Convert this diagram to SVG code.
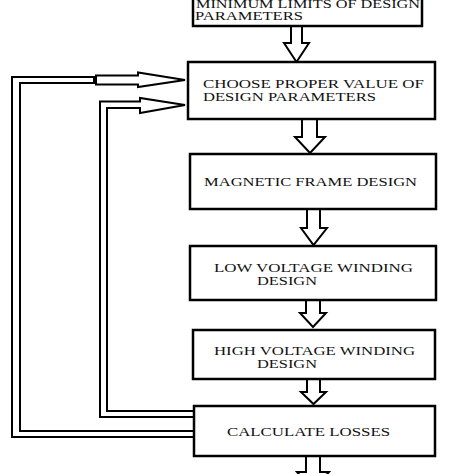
<svg xmlns="http://www.w3.org/2000/svg" width="474" height="474" viewBox="0 0 474 474">
<style>
.box{fill:#fff;stroke:#000;stroke-width:2.5}
.arr{fill:#fff;stroke:#000;stroke-width:2;stroke-linejoin:miter}
.t{font-family:"Liberation Serif","Times New Roman",serif;font-size:12px;fill:#111}
</style>
<rect width="474" height="474" fill="#fff"/>
<g id="connectors">
<polygon class="arr" points="291,26 302,26 302,43 309,43 296.5,62 284,43 291,43"/>
<polygon class="arr" points="302,119 317,119 317,137 325,137 310,153 295,137 302,137"/>
<polygon class="arr" points="307,209 320,209 320,228 327,228 313.5,245 301,228 307,228"/>
<polygon class="arr" points="306,300 320,300 320,313 326,313 313,327 300,313 306,313"/>
<polygon class="arr" points="307,379 320,379 320,392 326,392 313.5,404 301,392 307,392"/>
<polygon class="arr" points="306,456 320,456 320,472 329,472 313,490 297,472 306,472"/>
<polygon class="arr" points="12,77 94,77 94,83 20,83 20,431 195,431 195,437 12,437"/>
<polygon class="arr" points="96,75.5 138,75.5 138,72.5 185,80 138,87 138,84.5 96,84.5"/>
<polygon class="arr" points="100,101.5 140,101.5 140,98 185,105 140,113 140,108 107,108 107,411 195,411 195,417 100,417"/>
</g>
<g id="n1">
<rect class="box" x="193" y="-5" width="229" height="31"/>
<text class="t" x="196" y="8" textLength="224" lengthAdjust="spacingAndGlyphs">MINIMUM LIMITS OF DESIGN</text>
<text class="t" x="195" y="20" textLength="108" lengthAdjust="spacingAndGlyphs">PARAMETERS</text>
</g>
<g id="n2">
<rect class="box" x="188" y="62" width="247" height="57"/>
<text class="t" x="203" y="88" textLength="221" lengthAdjust="spacingAndGlyphs">CHOOSE PROPER VALUE OF</text>
<text class="t" x="203" y="100.5" textLength="173" lengthAdjust="spacingAndGlyphs">DESIGN PARAMETERS</text>
</g>
<g id="n3">
<rect class="box" x="190" y="154" width="246" height="55"/>
<text class="t" x="204" y="186" textLength="213" lengthAdjust="spacingAndGlyphs">MAGNETIC FRAME DESIGN</text>
</g>
<g id="n4">
<rect class="box" x="190" y="246" width="246" height="54"/>
<text class="t" x="214" y="272" textLength="199" lengthAdjust="spacingAndGlyphs">LOW VOLTAGE WINDING</text>
<text class="t" x="257" y="284.5" textLength="60" lengthAdjust="spacingAndGlyphs">DESIGN</text>
</g>
<g id="n5">
<rect class="box" x="193" y="330" width="242" height="49"/>
<text class="t" x="214" y="355" textLength="201" lengthAdjust="spacingAndGlyphs">HIGH VOLTAGE WINDING</text>
<text class="t" x="257" y="367.5" textLength="60" lengthAdjust="spacingAndGlyphs">DESIGN</text>
</g>
<g id="n6">
<rect class="box" x="194" y="406" width="241" height="50"/>
<text class="t" x="227" y="435.5" textLength="163" lengthAdjust="spacingAndGlyphs">CALCULATE LOSSES</text>
</g>
</svg>
